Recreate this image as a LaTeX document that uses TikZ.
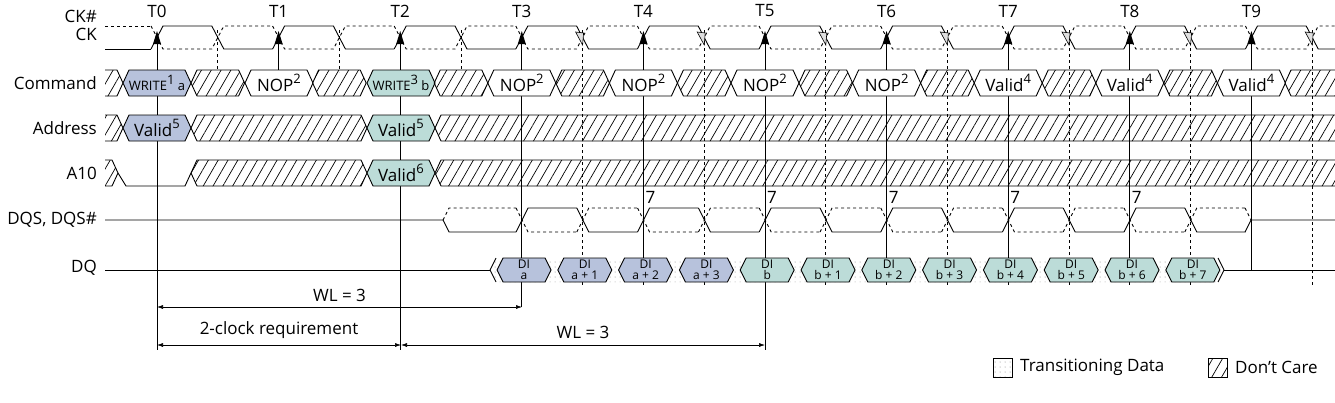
\documentclass[tikz,border=0pt]{standalone}
\usepackage{fontspec}
\setmainfont{Open Sans}
\usetikzlibrary{patterns.meta,arrows.meta}
\definecolor{cA}{HTML}{B7C2DC}
\definecolor{cB}{HTML}{BCDCD8}
\newcommand\sups[1]{\raisebox{0.45em}{\fontsize{13}{13}\selectfont #1}}
\tikzset{
  hatch/.style={pattern={Lines[angle=60,distance=8.5pt,line width=0.7pt]}},
  trans/.style={pattern={Dots[distance=5pt,radius=0.5pt]},pattern color=gray},
  wave/.style={line width=0.9pt},
  lbl/.style={anchor=east,font=\fontsize{17}{19}\selectfont,inner sep=0pt},
  txt/.style={font=\fontsize{17}{19}\selectfont,inner sep=0pt},
  small/.style={font=\fontsize{12}{11}\selectfont,inner sep=0pt,align=center},
  dim/.style={{Latex[length=6pt,width=4pt]}-{Latex[length=6pt,width=4pt]},line width=0.6pt}
}
\newcommand\hexc[6]{\draw[wave,#4] (#1,#3) -- (#1+6,#3-13) -- (#2-6,#3-13) -- (#2,#3) -- (#2-6,#3+13) -- (#1+6,#3+13) -- cycle;
  \node[txt] (#5) at ({(#1+#2)/2},#3) {#6};}
\newcommand\hatchc[3]{\fill[hatch] (#1,#3) -- (#1+6,#3-13) -- (#2-6,#3-13) -- (#2,#3) -- (#2-6,#3+13) -- (#1+6,#3+13) -- cycle;
  \draw[wave] (#1,#3) -- (#1+6,#3-13) -- (#2-6,#3-13) -- (#2,#3) -- (#2-6,#3+13) -- (#1+6,#3+13) -- cycle;}
\newcommand\hatchL[2]{\fill[hatch] (105,#2-13) -- (#1-6,#2-13) -- (#1,#2) -- (#1-6,#2+13) -- (105,#2+13) -- cycle;
  \draw[wave] (105,#2-13) -- (#1-6,#2-13) -- (#1,#2) -- (#1-6,#2+13) -- (105,#2+13);}
\newcommand\hatchR[2]{\fill[hatch] (1335,#2-13) -- (#1+6,#2-13) -- (#1,#2) -- (#1+6,#2+13) -- (1335,#2+13) -- cycle;
  \draw[wave] (1335,#2-13) -- (#1+6,#2-13) -- (#1,#2) -- (#1+6,#2+13) -- (1335,#2+13);}
\begin{document}
\begin{tikzpicture}[x=1pt,y=-1pt]
\clip (0,0) rectangle (1335,402);
\fill[white] (0,0) rectangle (1335,402);
\node[lbl] (lckn) at (97,16) {CK\#};
\node[lbl] (lck) at (97,34) {CK};
\node[lbl] (lcmd) at (97,83) {Command};
\node[lbl] (ladr) at (97,128) {Address};
\node[lbl] (la10) at (97,173) {A10};
\node[lbl] (ldqs) at (97,220) {DQS, DQS\#};
\node[lbl] (ldq) at (97,268) {DQ};
\foreach \n/\e in {0/350,1/70,2/350,3/307,4/285,5/350,6/285,7/285,8/285,9/270} {
  \pgfmathsetmacro\t{157+\n*121.6}
  \node[txt] (T\n) at (\t,11) {T\n};
  \draw[line width=0.8pt] (\t,36) -- (\t,\e);
}
\foreach \n in {0,1,2} {\pgfmathsetmacro\f{157+\n*121.6+60.8}
  \draw[dashed,line width=0.7pt] (\f,30) -- (\f,72);}
\foreach \n in {3,...,9} {\pgfmathsetmacro\f{157+\n*121.6+60.8}
  \draw[dashed,line width=0.7pt] (\f,30) -- (\f,285);}
\draw[wave] (105,49) -- (151,49);
\draw[wave,dashed] (105,26) -- (151,26);
\foreach \n in {0,...,9} {
  \pgfmathsetmacro\t{157+\n*121.6}
  \pgfmathsetmacro\f{\t+60.8}
  \pgfmathsetmacro\g{\t+121.6}
  \draw[wave] (\t-6,49) -- (\t+6,26) -- (\f-6,26) -- (\f+6,49) -- (\g-6,49);
  \draw[wave,dashed] (\t-6,26) -- (\t+6,49) -- (\f-6,49) -- (\f+6,26) -- (\g-6,26);
  \fill (\t,31) -- (\t-4,44) -- (\t+4,44) -- cycle;
}
\foreach \n in {3,...,9} {
  \pgfmathsetmacro\f{157+\n*121.6+60.8}
  \draw[fill=gray!25,line width=0.6pt] (\f-7,32) -- (\f+1,33) -- (\f,45) -- cycle;
}
\hatchL{123}{83}
\hexc{123}{191}{83}{fill=cA}{c0}{\fontsize{13}{14}\selectfont WRITE\sups{1} a}
\hexc{245}{313}{83}{fill=white}{c1}{NOP\sups{2}}
\hexc{367}{435}{83}{fill=cB}{c2}{\fontsize{13}{14}\selectfont WRITE\sups{3} b}
\foreach \n in {3,...,6} {\pgfmathsetmacro\t{157+\n*121.6}
  \hexc{\t-34}{\t+34}{83}{fill=white}{c\n}{NOP\sups{2}}}
\foreach \n in {7,8,9} {\pgfmathsetmacro\t{157+\n*121.6}
  \hexc{\t-34}{\t+34}{83}{fill=white}{c\n}{Valid\sups{4}}}
\foreach \n in {0,...,8} {\pgfmathsetmacro\t{157+\n*121.6}
  \hatchc{\t+34}{\t+87.6}{83}}
\hatchR{1285}{83}
\hatchL{123}{128}
\hexc{123}{191}{128}{fill=cA}{a0}{Valid\sups{5}}
\hatchc{191}{367}{128}
\hexc{367}{435}{128}{fill=cB}{a2}{Valid\sups{5}}
\hatchR{435}{128}
\fill[hatch] (105,160) -- (112,160) -- (118,173) -- (112,186) -- (105,186) -- cycle;
\draw[wave] (105,160) -- (112,160) -- (118,173) -- (112,186) -- (105,186);
\draw[wave] (118,173) -- (126,186) -- (185,186) -- (191,173);
\hatchc{191}{367}{173}
\hexc{367}{435}{173}{fill=cB}{m2}{Valid\sups{6}}
\hatchR{435}{173}
\draw[wave] (105,220) -- (443,220) -- (449,232) -- (516,232);
\draw[wave,dashed] (443,220) -- (449,208) -- (516,208);
\foreach \k in {0,...,11} {
  \pgfmathsetmacro\c{522+\k*60.8}
  \pgfmathsetmacro\d{\c+60.8}
  \ifodd\k
    \draw[wave] (\c-6,208) -- (\c+6,232) -- (\d-6,232);
    \draw[wave,dashed] (\c-6,232) -- (\c+6,208) -- (\d-6,208);
  \else
    \draw[wave] (\c-6,232) -- (\c+6,208) -- (\d-6,208);
    \draw[wave,dashed] (\c-6,208) -- (\c+6,232) -- (\d-6,232);
  \fi
}
\draw[wave] (1245,232) -- (1251,220) -- (1335,220);
\draw[wave,dashed] (1245,208) -- (1251,220);
\foreach \n in {4,...,8} {\pgfmathsetmacro\t{157+\n*121.6}
  \node[txt] (s\n) at (\t+7,197) {7};}
\draw[wave] (105,270) -- (490,270);
\fill[trans] (490,270) -- (496,258) -- (1218,258) -- (1224,270) -- (1218,282) -- (496,282) -- cycle;
\draw[wave] (490,270) -- (496,258) (490,270) -- (496,282);
\draw[wave] (1224,270) -- (1218,258) (1224,270) -- (1218,282);
\draw[wave] (1224,270) -- (1335,270);
\foreach \k/\s in {0/a,1/a + 1,2/a + 2,3/a + 3,4/b,5/b + 1,6/b + 2,7/b + 3,8/b + 4,9/b + 5,10/b + 6,11/b + 7} {
  \pgfmathsetmacro\c{524+\k*60.8}
  \ifnum\k<4 \def\col{cA}\else\def\col{cB}\fi
  \draw[wave,fill=\col] (\c-27,270) -- (\c-21,258) -- (\c+21,258) -- (\c+27,270) -- (\c+21,282) -- (\c-21,282) -- cycle;
  \node[small] (d\k) at (\c,270) {DI\\\s};
}
\coordinate (w1) at (157,307); \coordinate (w2) at (522,307);
\draw[dim] (w1) -- node[txt,above=5pt] (wl1) {WL = 3} (w2);
\coordinate (r1) at (157,345); \coordinate (r2) at (401,345);
\draw[dim] (r1) -- node[txt,above=6pt] (req) {2-clock requirement} (r2);
\coordinate (v1) at (401,345); \coordinate (v2) at (765,345);
\draw[dim] (v1) -- node[txt,above=6pt] (wl2) {WL = 3} (v2);
\draw[trans] (993,358) rectangle (1012,377);
\draw[line width=0.6pt] (993,358) rectangle (1012,377);
\node[txt,anchor=west] (lg1) at (1020,367) {Transitioning Data};
\fill[hatch] (1208,358) rectangle (1227,377);
\draw[line width=0.6pt] (1208,358) rectangle (1227,377);
\node[txt,anchor=west] (lg2) at (1235,367) {Don’t Care};
\end{tikzpicture}
\end{document}
